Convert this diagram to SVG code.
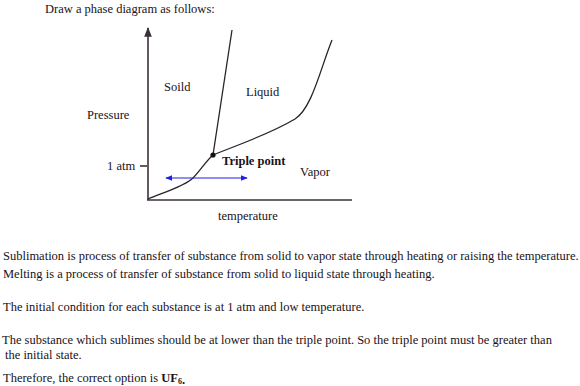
<svg xmlns="http://www.w3.org/2000/svg" width="580" height="386" viewBox="0 0 580 386">
<style>
text{font-family:"Liberation Serif","Times New Roman",serif;fill:#1a1218;font-size:12.5px}
.b{font-weight:bold}
.ax{stroke:#3a3038;stroke-width:1.6;fill:none}
.cv{stroke:#2a2228;stroke-width:1.3;fill:none}
</style>
<defs>
<marker id="ah" viewBox="0 0 10 10" refX="9" refY="5" markerWidth="6" markerHeight="6" orient="auto-start-reverse">
<path d="M0,1 L10,5 L0,9 z" fill="#3a3038"/>
</marker>
<marker id="bh" viewBox="0 0 10 10" refX="9" refY="5" markerWidth="6" markerHeight="6" orient="auto-start-reverse">
<path d="M0,1 L10,5 L0,9 z" fill="#2020e0"/>
</marker>
</defs>
<rect width="580" height="386" fill="#fff"/>
<text x="45" y="13">Draw a phase diagram as follows:</text>
<g id="axes">
<path class="ax" d="M148,200 V28" marker-end="url(#ah)"/>
<path class="ax" d="M147,200 H352"/>
<path class="ax" d="M140,166 H147"/>
</g>
<g id="connectors">
<path class="cv" d="M148,199 C165,192 185,186 193,178 C200,171 206,161 213,155"/>
<path class="cv" d="M213,155 L232,30"/>
<path class="cv" d="M213,155 C240,144 270,134 295,119 C312,108 320,70 332,40"/>
<circle cx="213" cy="155" r="2.6" fill="#111"/>
<path d="M166,178 H247" stroke="#2020e0" stroke-width="1.2" marker-start="url(#bh)" marker-end="url(#bh)"/>
</g>
<g id="labels">
<text x="164" y="91">Soild</text>
<text x="246" y="96">Liquid</text>
<text x="87" y="119">Pressure</text>
<text x="107" y="170">1 atm</text>
<text class="b" x="222" y="165">Triple point</text>
<text x="300" y="176">Vapor</text>
<text x="218" y="220">temperature</text>
</g>
<g id="body">
<text x="3" y="260">Sublimation is process of transfer of substance from solid to vapor state through heating or raising the temperature.</text>
<text x="3" y="278">Melting is a process of transfer of substance from solid to liquid state through heating.</text>
<text x="3" y="311">The initial condition for each substance is at 1 atm and low temperature.</text>
<text x="2" y="344">The substance which sublimes should be at lower than the triple point. So the triple point must be greater than</text>
<text x="5" y="359">the initial state.</text>
<text x="3" y="382">Therefore, the correct option is <tspan class="b">UF<tspan font-size="8" dy="2">6</tspan>.</tspan></text>
</g>
</svg>
